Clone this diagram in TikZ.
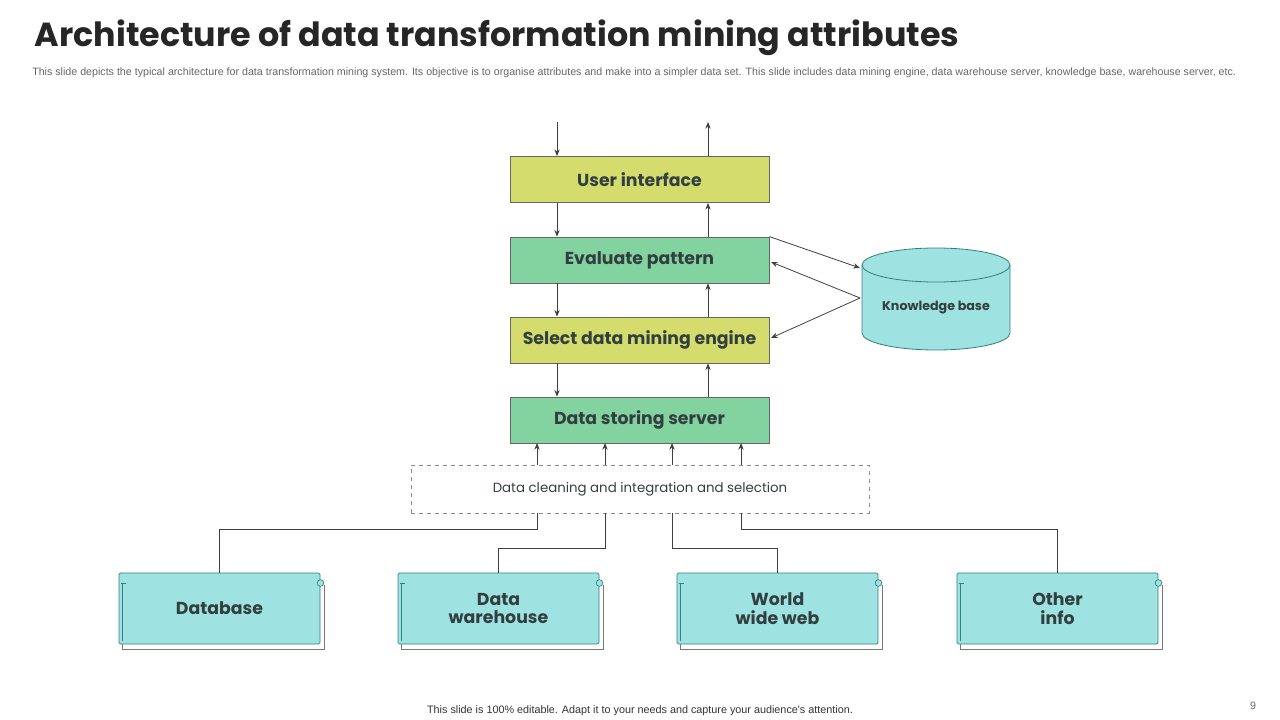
\documentclass[tikz,border=0pt]{standalone}
\usepackage{fontspec}
\setmainfont{Poppins}
\newfontfamily\subfont{Liberation Sans}
\usetikzlibrary{shapes.geometric,arrows.meta}
\definecolor{yg}{HTML}{D3DC6C}
\definecolor{gr}{HTML}{82D3A0}
\definecolor{cy}{HTML}{9EE2E2}
\definecolor{txt}{HTML}{333F3F}
\definecolor{ln}{HTML}{404040}
\tikzset{
 x=0.75pt,y=-0.75pt,
 flow/.style={draw=ln!80,line width=0.6pt,minimum width=194.25pt,minimum height=34.5pt,font=\bfseries\fontsize{13}{15}\selectfont,text=txt},
 src/.style={draw=teal!60!gray,fill=cy,line width=0.6pt,minimum width=150.75pt,minimum height=53.25pt,font=\bfseries\fontsize{13}{14}\selectfont,text=txt,align=center,rounded corners=1pt},
 arr/.style={draw=ln,line width=0.6pt,-{Stealth[length=5pt,width=4pt]}},
 con/.style={draw=ln,line width=0.6pt},
}
\begin{document}
\begin{tikzpicture}
\useasboundingbox (0,0) rectangle (1280,720);
\node[anchor=west,font=\bfseries\fontsize{25}{28}\selectfont,text=black!85] (title) at (30,38) {Architecture of data transformation mining attributes};
\node[anchor=west,font=\subfont\fontsize{8}{9}\selectfont,text=black!60,inner sep=0] (sub) at (32,73) {This slide depicts the typical architecture for data transformation mining system. Its objective is to organise attributes and make  into a simpler data set. This slide includes data mining  engine, data warehouse server, knowledge base, warehouse server, etc.};

\node[flow,fill=yg] (ui) at (639.5,179.5) {User interface};
\node[flow,fill=gr] (ev) at (639.5,260) {Evaluate pattern};
\node[flow,fill=yg] (sel) at (639.5,340) {Select data mining engine};
\node[flow,fill=gr] (ds) at (639.5,420) {Data storing server};

\coordinate (tin) at (557,122);
\coordinate (tout) at (708,122);
\draw[arr] (tin) -- (tin |- ui.north);
\draw[arr] (ui.north -| tout) -- (tout);
\draw[arr] (ui.south -| tin) -- (ev.north -| tin);
\draw[arr] (ev.north -| tout) -- (ui.south -| tout);
\draw[arr] (ev.south -| tin) -- (sel.north -| tin);
\draw[arr] (sel.north -| tout) -- (ev.south -| tout);
\draw[arr] (sel.south -| tin) -- (ds.north -| tin);
\draw[arr] (ds.north -| tout) -- (sel.south -| tout);

\draw[draw=teal!60!gray,fill=cy,line width=0.6pt] (862,265) -- (862,333) arc[start angle=180,end angle=0,x radius=74,y radius=17] -- (1010,265) arc[start angle=0,end angle=-180,x radius=74,y radius=17];
\draw[draw=teal!60!gray,line width=0.6pt] (862,265) arc[start angle=180,end angle=0,x radius=74,y radius=17];
\node[font=\bfseries\fontsize{9.5}{11}\selectfont,text=txt] (kb) at (936,308) {Knowledge base};
\coordinate (kbl) at (860,298);
\draw[arr] (ev.north east) -- (860,268);
\draw[arr] (kbl) -- (771,262);
\draw[arr] (kbl) -- (771,338);

\node[draw=black!45,dashed,line width=0.5pt,minimum width=343.5pt,minimum height=36pt,font=\fontsize{10}{12}\selectfont,text=txt] (dc) at (640,489) {Data cleaning and integration and selection};
\foreach \x in {537,605,672,741} \draw[arr] (\x,465) -- (\x,443);

\foreach \n/\x/\t in {db/219.5/Database,dw/498.5/{Data\\warehouse},ww/777.5/{World\\wide web},oi/1057.5/{Other\\info}}{
 \draw[draw=ln!70,line width=0.6pt] (\x-97,582) -- (\x-97,649) -- (\x+105,649) -- (\x+105,585);
 \node[src] (\n) at (\x,608.5) {\t};
 \draw[draw=teal!60!gray,line width=0.5pt,fill=cy] (\x+101,583) circle (2.5pt);
 \draw[draw=teal!60!gray,line width=0.5pt] (\x-97,583) -- (\x-97,641) (\x-99,583) -- (\x-94,583);
}
\draw[con] (537,513) -- (537,529) -- (219.5,529) -- (db.north);
\draw[con] (605,513) -- (605,548) -- (498.5,548) -- (dw.north);
\draw[con] (672,513) -- (672,548) -- (777.5,548) -- (ww.north);
\draw[con] (741,513) -- (741,529) -- (1057.5,529) -- (oi.north);

\node[font=\subfont\fontsize{8.1}{9}\selectfont,text=black!80] (foot) at (640,711) {This slide is 100\% editable.  Adapt it to your needs and capture  your audience's attention.};
\node[font=\subfont\fontsize{8}{9}\selectfont,text=black!60] (pg) at (1253,706) {9};
\end{tikzpicture}
\end{document}
